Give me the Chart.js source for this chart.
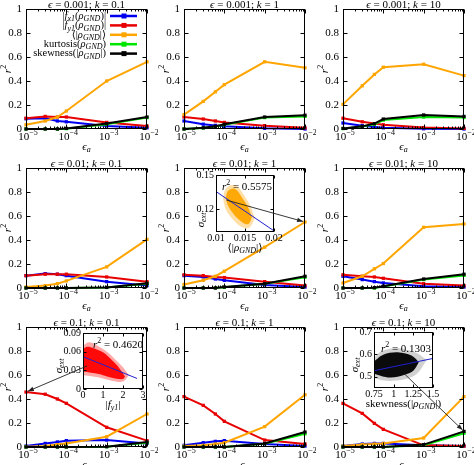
<!DOCTYPE html>
<html>
<head>
<meta charset="utf-8">
<script src="https://cdn.jsdelivr.net/npm/chart.js@4.4.1/dist/chart.umd.min.js"></script>
<style>
  body { margin: 0; background: #fff; }
  #fig { position: relative; width: 474px; height: 465px; overflow: hidden; background: #fff; }
  #fig canvas { position: absolute; }
</style>
</head>
<body>
<div id="fig"></div>
<script>
// x axis: strain amplitude eps_a
const eaValues = [1e-5, 3e-5, 6e-5, 1e-4, 1e-3, 1e-2];
const eaDecades = [1e-5, 1e-4, 1e-3, 1e-2];
const rTicks = [0, 0.2, 0.4, 0.6, 0.8, 1];
const epsilons = ['0.001', '0.01', '0.1'];
const kValues = ['0.1', '1', '10'];

// r^2 for each panel, rows eps = 0.001 / 0.01 / 0.1, columns k = 0.1 / 1 / 10
const fx1 = [
  [0.085, 0.09, 0.067, 0.06, 0.025, 0.01],
  [0.067, 0.04, 0.03, 0.022, 0.006, 0.0],
  [0.05, 0.028, 0.017, 0.01, 0.002, 0.0],
  [0.103, 0.12, 0.115, 0.103, 0.053, 0.02],
  [0.103, 0.092, 0.075, 0.064, 0.025, 0.008],
  [0.098, 0.07, 0.053, 0.042, 0.014, 0.008],
  [0.008, 0.03, 0.042, 0.053, 0.058, 0.03],
  [0.014, 0.036, 0.047, 0.053, 0.025, 0.008],
  [0.008, 0.025, 0.03, 0.03, 0.014, 0.008]
];
const fy1 = [
  [0.09, 0.105, 0.10, 0.10, 0.055, 0.025],
  [0.10, 0.083, 0.067, 0.055, 0.028, 0.01],
  [0.09, 0.06, 0.045, 0.035, 0.012, 0.005],
  [0.103, 0.115, 0.115, 0.115, 0.092, 0.053],
  [0.11, 0.103, 0.092, 0.087, 0.053, 0.02],
  [0.11, 0.098, 0.092, 0.081, 0.036, 0.02],
  [0.458, 0.44, 0.40, 0.364, 0.164, 0.053],
  [0.42, 0.347, 0.275, 0.214, 0.058, 0.025],
  [0.364, 0.28, 0.197, 0.147, 0.014, 0.008]
];
const meanRho = [
  [0.035, 0.067, 0.10, 0.15, 0.40, 0.56],
  [0.12, 0.23, 0.31, 0.37, 0.56, 0.51],
  [0.205, 0.36, 0.455, 0.515, 0.54, 0.445],
  [0.008, 0.02, 0.036, 0.059, 0.176, 0.405],
  [0.03, 0.064, 0.098, 0.14, 0.34, 0.55],
  [0.042, 0.098, 0.16, 0.204, 0.506, 0.534],
  [0.003, 0.008, 0.02, 0.03, 0.086, 0.275],
  [0.008, 0.014, 0.025, 0.036, 0.17, 0.436],
  [0.008, 0.02, 0.025, 0.03, 0.075, 0.42]
];
const kurtRho = [
  [0, 0, 0, 0.003, 0.04, 0.095],
  [0, 0.008, 0.02, 0.035, 0.095, 0.105],
  [0.003, 0.02, 0.04, 0.075, 0.10, 0.095],
  [0, 0, 0, 0, 0.004, 0.035],
  [0, 0, 0, 0.006, 0.035, 0.09],
  [0, 0, 0, 0.012, 0.07, 0.105],
  [0, 0, 0, 0, 0.002, 0.035],
  [0, 0, 0, 0, 0.028, 0.11],
  [0, 0, 0, 0, 0.015, 0.115]
];
const skewRho = [
  [0, 0, 0, 0.005, 0.045, 0.10],
  [0, 0.01, 0.022, 0.04, 0.10, 0.115],
  [0.005, 0.022, 0.045, 0.083, 0.117, 0.105],
  [0, 0, 0, 0, 0.005, 0.04],
  [0, 0, 0, 0.008, 0.036, 0.098],
  [0, 0, 0.003, 0.014, 0.075, 0.115],
  [0, 0, 0, 0, 0.003, 0.042],
  [0, 0, 0, 0, 0.03, 0.125],
  [0, 0, 0, 0, 0.02, 0.13]
];

// inset scatter clouds (outline of the point cloud) and fit lines
const inset5Fit = [[0.01, 0.1355], [0.02, 0.101]];
const inset5CoreUp = [[0.0117, 0.130], [0.0120, 0.1355], [0.0127, 0.138], [0.0135, 0.137], [0.0145, 0.130], [0.0155, 0.122], [0.0162, 0.113]];
const inset5CoreLow = [[0.0117, 0.130], [0.0120, 0.124], [0.0127, 0.118], [0.0137, 0.112], [0.0147, 0.108], [0.0156, 0.107], [0.0162, 0.113]];
const inset5HaloUp = [[0.0112, 0.130], [0.0116, 0.137], [0.0125, 0.141], [0.0137, 0.140], [0.0150, 0.131], [0.0160, 0.122], [0.0167, 0.112]];
const inset5HaloLow = [[0.0112, 0.130], [0.0116, 0.121], [0.0124, 0.114], [0.0135, 0.108], [0.0147, 0.104], [0.0158, 0.104], [0.0167, 0.112]];

const inset7Fit = [[0, 0.052], [2.7, 0.017]];
const inset7CoreUp = [[0, 0.064], [0.2, 0.068], [0.5, 0.066], [1.0, 0.059], [1.4, 0.048], [1.7, 0.038], [2.0, 0.025], [2.1, 0.02]];
const inset7CoreLow = [[0, 0.028], [0.4, 0.026], [0.8, 0.024], [1.2, 0.02], [1.6, 0.017], [2.0, 0.016], [2.1, 0.02]];
const inset7HaloUp = [[0, 0.07], [0.3, 0.075], [0.7, 0.07], [1.2, 0.06], [1.6, 0.048], [2.0, 0.035], [2.3, 0.022]];
const inset7HaloLow = [[0, 0.022], [0.5, 0.02], [1.0, 0.017], [1.5, 0.013], [2.0, 0.012], [2.3, 0.022]];

const inset9Fit = [[0.75, 0.527], [1.5, 0.582]];
const inset9CoreUp = [[0.75, 0.567], [0.78, 0.577], [0.85, 0.595], [0.95, 0.607], [1.05, 0.61], [1.15, 0.604], [1.25, 0.59], [1.32, 0.565]];
const inset9CoreLow = [[0.75, 0.515], [0.78, 0.51], [0.85, 0.503], [0.95, 0.497], [1.05, 0.5], [1.15, 0.51], [1.25, 0.527], [1.32, 0.565]];
const inset9HaloUp = [[0.75, 0.585], [0.85, 0.615], [1.0, 0.628], [1.15, 0.622], [1.3, 0.605], [1.42, 0.575]];
const inset9HaloLow = [[0.75, 0.495], [0.85, 0.485], [1.0, 0.482], [1.15, 0.49], [1.3, 0.515], [1.42, 0.575]];

const SERIF = '"Liberation Serif", "DejaVu Serif", serif';
const COL_LEFT = [0, 158, 317];
const ROW_TOP = [0, 159, 318];
const fig = document.getElementById('fig');

// drawn in this order: first entry ends up on top
const series = [
  { values: skewRho, color: '#000000' },
  { values: kurtRho, color: '#00e600' },
  { values: meanRho, color: '#ffa500' },
  { values: fy1, color: '#e80000' },
  { values: fx1, color: '#0000f0' }
];
const legendItems = [
  { color: '#0000f0', parts: [['|', 'n'], ['f', 'i'], ['x1', 'b'], ['(', 'n'], ['ρ', 'i'], ['GND', 'b'], [')|', 'n']] },
  { color: '#e80000', parts: [['|', 'n'], ['f', 'i'], ['y1', 'b'], ['(', 'n'], ['ρ', 'i'], ['GND', 'b'], [')|', 'n']] },
  { color: '#ffa500', parts: [['⟨|', 'n'], ['ρ', 'i'], ['GND', 'b'], ['|⟩', 'n']] },
  { color: '#00e600', parts: [['kurtosis(', 'n'], ['ρ', 'i'], ['GND', 'b'], [')', 'n']] },
  { color: '#000000', parts: [['skewness(|', 'n'], ['ρ', 'i'], ['GND', 'b'], ['|)', 'n']] }
];

function partFont(kind, size) {
  const small = Math.round(size * 0.72);
  if (kind === 'i') return 'italic ' + size + 'px ' + SERIF;
  if (kind === 'b') return 'italic ' + small + 'px ' + SERIF;
  if (kind === 'p') return small + 'px ' + SERIF;
  return size + 'px ' + SERIF;
}

function drawRich(ctx, parts, x, y, size, align) {
  let w = 0;
  parts.forEach(p => { ctx.font = partFont(p[1], size); w += ctx.measureText(p[0]).width; });
  let cx = align === 'right' ? x - w : (align === 'left' ? x : x - w / 2);
  ctx.textAlign = 'left';
  ctx.textBaseline = 'middle';
  ctx.fillStyle = '#000';
  parts.forEach(p => {
    ctx.font = partFont(p[1], size);
    const dy = p[1] === 'b' ? size * 0.3 : (p[1] === 'p' ? -size * 0.35 : 0);
    ctx.fillText(p[0], cx, y + dy);
    cx += ctx.measureText(p[0]).width;
  });
}

function drawRotated(ctx, parts, x, y, size) {
  ctx.save();
  ctx.translate(x, y);
  ctx.rotate(-Math.PI / 2);
  drawRich(ctx, parts, 0, 0, size, 'center');
  ctx.restore();
}

const fmt = v => String(+v.toFixed(4));
const panels = [];

function makeDeco(cfg) {
  return {
    id: 'deco',
    beforeDraw(chart) {
      if (!cfg.whiteBox) return;
      const a = chart.chartArea, ctx = chart.ctx;
      ctx.save();
      ctx.fillStyle = '#fff';
      ctx.fillRect(a.left, a.top, a.right - a.left, a.bottom - a.top);
      ctx.restore();
    },
    afterDraw(chart) {
      const ctx = chart.ctx, a = chart.chartArea;
      const xs = chart.scales.x, ys = chart.scales.y;
      const L = Math.round(a.left) + 0.5, R = Math.round(a.right) - 0.5;
      const T = Math.round(a.top) + 0.5, B = Math.round(a.bottom) - 0.5;
      ctx.save();
      ctx.strokeStyle = '#000';
      ctx.lineWidth = 1;
      ctx.beginPath();
      const seg = (x1, y1, x2, y2) => { ctx.moveTo(x1, y1); ctx.lineTo(x2, y2); };
      cfg.xMajor.forEach(v => {
        const p = Math.round(xs.getPixelForValue(v)) + 0.5;
        seg(p, B, p, B - cfg.tl); seg(p, T, p, T + cfg.tl);
      });
      if (cfg.logMinor) {
        cfg.xMajor.slice(0, -1).forEach(d => {
          for (let k = 2; k < 10; k++) {
            const p = Math.round(xs.getPixelForValue(k * d)) + 0.5;
            seg(p, B, p, B - cfg.tl / 2); seg(p, T, p, T + cfg.tl / 2);
          }
        });
      }
      cfg.yMajor.forEach(v => {
        const p = Math.round(ys.getPixelForValue(v)) + 0.5;
        seg(L, p, L + cfg.tl, p); seg(R, p, R - cfg.tl, p);
      });
      ctx.stroke();
      ctx.strokeRect(L, T, R - L, B - T);

      // tick labels
      cfg.yMajor.forEach(v => {
        drawRich(ctx, [[fmt(v), 'n']], a.left - cfg.pad, ys.getPixelForValue(v), cfg.fs, 'right');
      });
      cfg.xMajor.forEach(v => {
        const p = xs.getPixelForValue(v);
        if (cfg.powLabels) {
          drawRich(ctx, [['10', 'n'], ['−' + (-Math.round(Math.log10(v))), 'p']], p + 2, a.bottom + 8, cfg.fs, 'center');
        } else {
          drawRich(ctx, [[fmt(v), 'n']], p, a.bottom + 6.5, cfg.fs, 'center');
        }
      });

      if (cfg.title) drawRich(ctx, cfg.title, (a.left + a.right) / 2, a.top - 4, 11, 'center');
      if (cfg.yTitle) drawRotated(ctx, cfg.yTitle.parts, a.left + cfg.yTitle.dx, a.top + cfg.yTitle.dy, 11);
      if (cfg.xTitle) drawRich(ctx, cfg.xTitle.parts, (a.left + a.right) / 2, a.bottom + cfg.xTitle.dy, 11, 'center');
      if (cfg.rText) drawRich(ctx, cfg.rText.parts, a.left + cfg.rText.dx, a.top + cfg.rText.dy, 11, 'center');

      if (cfg.legend) {
        cfg.legend.forEach((item, k) => {
          const y = a.top + 7 + k * 9.4;
          drawRich(ctx, item.parts, a.left + 80, y, 10.5, 'right');
          ctx.strokeStyle = item.color;
          ctx.lineWidth = 2.5;
          ctx.beginPath();
          ctx.moveTo(a.left + 84, y);
          ctx.lineTo(a.left + 111, y);
          ctx.stroke();
          ctx.fillStyle = item.color;
          ctx.fillRect(a.left + 95.5, y - 2.5, 5, 5);
        });
      }

      if (cfg.arrow) {
        const m = panels[cfg.arrow.panel];
        const x1 = xs.getPixelForValue(cfg.arrow.from[0]), y1 = ys.getPixelForValue(cfg.arrow.from[1]);
        const x2 = m.scales.x.getPixelForValue(cfg.arrow.to[0]), y2 = m.scales.y.getPixelForValue(cfg.arrow.to[1]);
        const ang = Math.atan2(y2 - y1, x2 - x1);
        const ex = x2 - 2 * Math.cos(ang), ey = y2 - 2 * Math.sin(ang);
        ctx.strokeStyle = '#222';
        ctx.fillStyle = '#222';
        ctx.lineWidth = 0.9;
        ctx.beginPath();
        ctx.moveTo(x1, y1);
        ctx.lineTo(ex, ey);
        ctx.stroke();
        ctx.beginPath();
        ctx.moveTo(ex, ey);
        ctx.lineTo(ex - 6 * Math.cos(ang) + 2.2 * Math.sin(ang), ey - 6 * Math.sin(ang) - 2.2 * Math.cos(ang));
        ctx.lineTo(ex - 6 * Math.cos(ang) - 2.2 * Math.sin(ang), ey - 6 * Math.sin(ang) + 2.2 * Math.cos(ang));
        ctx.closePath();
        ctx.fill();
      }
      ctx.restore();
    }
  };
}

function addCanvas(left, top, w, h) {
  const c = document.createElement('canvas');
  c.width = w; c.height = h;
  c.style.left = left + 'px'; c.style.top = top + 'px';
  c.style.width = w + 'px'; c.style.height = h + 'px';
  fig.appendChild(c);
  return c;
}

function hiddenAxis(type, min, max, horizontal) {
  return {
    type: type, min: min, max: max,
    grid: { display: false, drawTicks: false }, border: { display: false },
    ticks: { display: false },
    afterFit: s => { if (horizontal) s.height = 0; else s.width = 0; }
  };
}

function makePanel(i) {
  const row = Math.floor(i / 3), col = i % 3;
  const w = 158, h = row === 2 ? 147 : 159;
  const canvas = addCanvas(COL_LEFT[col], ROW_TOP[row], w, h);
  const chart = new Chart(canvas, {
    type: 'line',
    data: {
      datasets: series.map(s => ({
        data: eaValues.map((x, j) => ({ x: x, y: s.values[i][j] })),
        borderColor: s.color,
        backgroundColor: s.color,
        borderWidth: 2,
        pointStyle: 'rect',
        pointRadius: 2.3,
        pointBorderWidth: 0,
        tension: 0,
        fill: false,
        clip: false
      }))
    },
    options: {
      responsive: false,
      animation: false,
      events: [],
      layout: { padding: { left: 26, top: 9, right: w - 147, bottom: h - 129 } },
      plugins: { legend: { display: false }, tooltip: { enabled: false } },
      scales: {
        x: hiddenAxis('logarithmic', 1e-5, 1e-2, true),
        y: hiddenAxis('linear', 0, 1, false)
      }
    },
    plugins: [makeDeco({
      tl: 4, fs: 11, pad: 4, xMajor: eaDecades, logMinor: true, yMajor: rTicks, powLabels: true,
      title: [['ϵ', 'i'], [' = ' + epsilons[row] + '; ', 'n'], ['k', 'i'], [' = ' + kValues[col], 'n']],
      yTitle: { parts: [['r', 'i'], ['2', 'p']], dx: -18, dy: 60 },
      xTitle: { parts: [['ϵ', 'i'], ['a', 'b']], dy: 18 },
      legend: i === 0 ? legendItems : null
    })]
  });
  panels.push(chart);
}

function outline(points, color, fill) {
  return {
    data: points.map(p => ({ x: p[0], y: p[1] })),
    borderWidth: 0, borderColor: color, backgroundColor: color,
    pointRadius: 0, tension: 0.35, fill: fill
  };
}

function makeInset(spec) {
  const i = spec.panel;
  const row = Math.floor(i / 3), col = i % 3;
  const w = 158, h = row === 2 ? 147 : 159;
  const cl = COL_LEFT[col], ct = ROW_TOP[row];
  const canvas = addCanvas(cl, ct, w, h);
  new Chart(canvas, {
    type: 'line',
    data: {
      datasets: [
        { data: spec.fit.map(p => ({ x: p[0], y: p[1] })), borderColor: '#2020d0', borderWidth: 1, pointRadius: 0, fill: false },
        outline(spec.coreUp, spec.core, '+1'),
        outline(spec.coreLow, spec.core, false),
        outline(spec.haloUp, spec.halo, '+1'),
        outline(spec.haloLow, spec.halo, false)
      ]
    },
    options: {
      responsive: false,
      animation: false,
      events: [],
      layout: { padding: { left: spec.box[0] - cl, top: spec.box[1] - ct, right: w - (spec.box[2] - cl), bottom: h - (spec.box[3] - ct) } },
      plugins: { legend: { display: false }, tooltip: { enabled: false } },
      scales: {
        x: hiddenAxis('linear', spec.xRange[0], spec.xRange[1], true),
        y: hiddenAxis('linear', spec.yRange[0], spec.yRange[1], false)
      }
    },
    plugins: [makeDeco({
      whiteBox: true, tl: 3, fs: 10, pad: 2, xMajor: spec.xTicks, logMinor: false, yMajor: spec.yTicks,
      yTitle: { parts: [['σ', 'i'], ['ext', 'b']], dx: spec.sigma[0], dy: spec.sigma[1] },
      xTitle: { parts: spec.xLabel, dy: 16 },
      rText: { parts: [['r', 'i'], ['2', 'p'], [' = ' + spec.r2, 'n']], dx: spec.rPos[0], dy: spec.rPos[1] },
      arrow: spec.arrow
    })]
  });
}

for (let i = 0; i < 9; i++) makePanel(i);

makeInset({
  panel: 4, box: [216, 175, 274, 232],
  xRange: [0.01, 0.02], xTicks: [0.01, 0.015, 0.02],
  yRange: [0.1, 0.15], yTicks: [0.12, 0.15],
  fit: inset5Fit, coreUp: inset5CoreUp, coreLow: inset5CoreLow, haloUp: inset5HaloUp, haloLow: inset5HaloLow,
  core: 'rgba(255,165,0,0.95)', halo: 'rgba(255,175,30,0.4)',
  xLabel: [['⟨|', 'n'], ['ρ', 'i'], ['GND', 'b'], ['|⟩', 'n']],
  sigma: [-15, 45], r2: '0.5575', rPos: [31, 12],
  arrow: { from: [0.0118, 0.128], panel: 4, to: [1e-2, meanRho[4][5]] }
});
makeInset({
  panel: 6, box: [83, 333, 143, 389],
  xRange: [0, 3], xTicks: [0, 1, 2, 3],
  yRange: [0, 0.09], yTicks: [0, 0.03, 0.06, 0.09],
  fit: inset7Fit, coreUp: inset7CoreUp, coreLow: inset7CoreLow, haloUp: inset7HaloUp, haloLow: inset7HaloLow,
  core: 'rgba(255,0,0,0.95)', halo: 'rgba(255,40,40,0.4)',
  xLabel: [['|', 'n'], ['f', 'i'], ['y1', 'b'], ['|', 'n']],
  sigma: [-24, 33], r2: '0.4620', rPos: [35, 12],
  arrow: { from: [0.2, 0.037], panel: 6, to: [1e-5, fy1[6][0]] }
});
makeInset({
  panel: 8, box: [374, 332, 433, 388],
  xRange: [0.75, 1.5], xTicks: [0.75, 1, 1.25, 1.5],
  yRange: [0.45, 0.7], yTicks: [0.5, 0.6, 0.7],
  fit: inset9Fit, coreUp: inset9CoreUp, coreLow: inset9CoreLow, haloUp: inset9HaloUp, haloLow: inset9HaloLow,
  core: 'rgba(0,0,0,0.95)', halo: 'rgba(0,0,0,0.18)',
  xLabel: [['skewness(|', 'n'], ['ρ', 'i'], ['GND', 'b'], ['|)', 'n']],
  sigma: [-19, 33], r2: '0.1303', rPos: [32, 17],
  arrow: { from: [1.14, 0.512], panel: 8, to: [1e-2, skewRho[8][5]] }
});
</script>
</body>
</html>
